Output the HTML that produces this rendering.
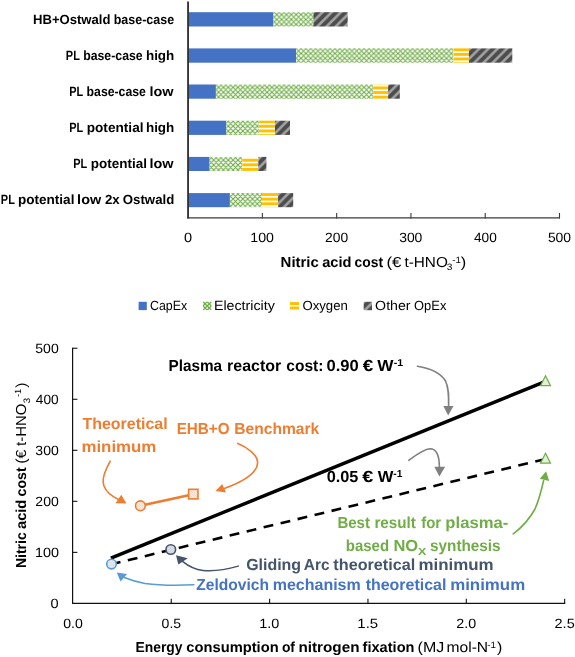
<!DOCTYPE html>
<html><head><meta charset="utf-8"><title>Nitric acid cost charts</title>
<style>html,body{margin:0;padding:0;background:#fff}svg{display:block}</style></head>
<body>
<svg width="575" height="657" viewBox="0 0 575 657" font-family="'Liberation Sans', Arial, sans-serif" text-rendering="geometricPrecision">
<defs>
<pattern id="pg" patternUnits="userSpaceOnUse" width="4.85" height="4.85" x="0.3" y="0.1">
<rect width="4.85" height="4.85" fill="#fff"/>
<path d="M-1,-1L5.85,5.85M-1,5.85L5.85,-1M-1,3.85L1,5.85M3.85,-1L5.85,1M-1,1L1,-1M3.85,5.85L5.85,3.85" stroke="#70AD47" stroke-width="1.12" fill="none"/>
</pattern>
<pattern id="py" patternUnits="userSpaceOnUse" width="10" height="4.75" x="0" y="48.5">
<rect width="10" height="4.75" fill="#fff"/>
<rect width="10" height="3" fill="#FFC000"/>
</pattern>
<pattern id="pk" patternUnits="userSpaceOnUse" width="9.2" height="9.2" x="0" y="0">
<rect width="9.2" height="9.2" fill="#4c4c4c"/>
<path d="M-2,5.5L5.5,-2M1.5,11.2L11.2,1.5" stroke="#a3a3a3" stroke-width="2.6" fill="none"/>
</pattern>
<pattern id="po" patternUnits="userSpaceOnUse" width="2.4" height="2.4">
<rect width="2.4" height="2.4" fill="#fdf4ee"/>
<path d="M-0.6,-0.6L3,3M-0.6,1.8L0.6,3M1.8,-0.6L3,0.6" stroke="#f3c3a2" stroke-width="0.8" fill="none"/>
</pattern>
</defs>
<rect width="575" height="657" fill="#fff"/>
<rect x="188.90" y="12.20" width="84.10" height="14.30" fill="#4472C4"/>
<rect x="273.00" y="12.20" width="40.40" height="14.30" fill="url(#pg)"/>
<rect x="313.40" y="12.20" width="34.30" height="14.30" fill="url(#pk)"/>
<rect x="188.90" y="48.40" width="107.30" height="14.30" fill="#4472C4"/>
<rect x="296.20" y="48.40" width="157.30" height="14.30" fill="url(#pg)"/>
<rect x="453.50" y="48.40" width="15.40" height="14.30" fill="#fffdf5"/>
<rect x="453.50" y="48.40" width="15.40" height="2.80" fill="#FFC000"/>
<rect x="453.50" y="52.95" width="15.40" height="2.85" fill="#FFC000"/>
<rect x="453.50" y="57.55" width="15.40" height="2.85" fill="#FFC000"/>
<rect x="453.50" y="62.15" width="15.40" height="0.55" fill="#FFC000"/>
<rect x="468.90" y="48.40" width="43.40" height="14.30" fill="url(#pk)"/>
<rect x="188.90" y="84.50" width="27.00" height="14.20" fill="#4472C4"/>
<rect x="215.90" y="84.50" width="157.20" height="14.20" fill="url(#pg)"/>
<rect x="373.10" y="84.50" width="15.00" height="14.20" fill="#fffdf5"/>
<rect x="373.10" y="84.50" width="15.00" height="0.25" fill="#FFC000"/>
<rect x="373.10" y="86.50" width="15.00" height="2.85" fill="#FFC000"/>
<rect x="373.10" y="91.10" width="15.00" height="2.85" fill="#FFC000"/>
<rect x="373.10" y="95.70" width="15.00" height="2.85" fill="#FFC000"/>
<rect x="388.10" y="84.50" width="11.70" height="14.20" fill="url(#pk)"/>
<rect x="188.90" y="120.70" width="37.40" height="14.20" fill="#4472C4"/>
<rect x="226.30" y="120.70" width="32.60" height="14.20" fill="url(#pg)"/>
<rect x="258.90" y="120.70" width="16.10" height="14.20" fill="#fffdf5"/>
<rect x="258.90" y="120.70" width="16.10" height="2.45" fill="#FFC000"/>
<rect x="258.90" y="124.90" width="16.10" height="2.85" fill="#FFC000"/>
<rect x="258.90" y="129.50" width="16.10" height="2.85" fill="#FFC000"/>
<rect x="258.90" y="134.10" width="16.10" height="0.80" fill="#FFC000"/>
<rect x="275.00" y="120.70" width="15.00" height="14.20" fill="url(#pk)"/>
<rect x="188.90" y="156.90" width="20.70" height="14.10" fill="#4472C4"/>
<rect x="209.60" y="156.90" width="32.60" height="14.10" fill="url(#pg)"/>
<rect x="242.20" y="156.90" width="16.10" height="14.10" fill="#fffdf5"/>
<rect x="242.20" y="158.80" width="16.10" height="2.85" fill="#FFC000"/>
<rect x="242.20" y="163.40" width="16.10" height="2.85" fill="#FFC000"/>
<rect x="242.20" y="168.00" width="16.10" height="2.85" fill="#FFC000"/>
<rect x="258.30" y="156.90" width="8.10" height="14.10" fill="url(#pk)"/>
<rect x="188.90" y="193.10" width="41.00" height="14.10" fill="#4472C4"/>
<rect x="229.90" y="193.10" width="32.10" height="14.10" fill="url(#pg)"/>
<rect x="262.00" y="193.10" width="16.10" height="14.10" fill="#fffdf5"/>
<rect x="262.00" y="193.10" width="16.10" height="2.85" fill="#FFC000"/>
<rect x="262.00" y="197.70" width="16.10" height="2.85" fill="#FFC000"/>
<rect x="262.00" y="202.30" width="16.10" height="2.85" fill="#FFC000"/>
<rect x="262.00" y="206.90" width="16.10" height="0.30" fill="#FFC000"/>
<rect x="278.10" y="193.10" width="15.10" height="14.10" fill="url(#pk)"/>
<line x1="188.05" y1="1.4" x2="188.05" y2="218.4" stroke="#111" stroke-width="1.6"/>
<line x1="187.3" y1="217.9" x2="560" y2="217.9" stroke="#3a3a3a" stroke-width="1.1"/>
<line x1="262.38" y1="213" x2="262.38" y2="218.4" stroke="#3a3a3a" stroke-width="1.1"/>
<line x1="336.66" y1="213" x2="336.66" y2="218.4" stroke="#3a3a3a" stroke-width="1.1"/>
<line x1="410.94" y1="213" x2="410.94" y2="218.4" stroke="#3a3a3a" stroke-width="1.1"/>
<line x1="485.22" y1="213" x2="485.22" y2="218.4" stroke="#3a3a3a" stroke-width="1.1"/>
<line x1="559.50" y1="213" x2="559.50" y2="218.4" stroke="#3a3a3a" stroke-width="1.1"/>
<text><tspan x="32.97" y="24" font-size="13.3" font-weight="bold" fill="#000" textLength="77.53" lengthAdjust="spacingAndGlyphs">HB+Ostwald</tspan> <tspan x="113.70" y="24" font-size="13.3" font-weight="bold" fill="#000" textLength="60.44" lengthAdjust="spacingAndGlyphs">base-case</tspan></text>
<text><tspan x="65.86" y="60" font-size="13.3" font-weight="bold" fill="#000" textLength="14.00" lengthAdjust="spacingAndGlyphs">PL</tspan> <tspan x="83.19" y="60" font-size="13.3" font-weight="bold" fill="#000" textLength="59.47" lengthAdjust="spacingAndGlyphs">base-case</tspan> <tspan x="145.92" y="60" font-size="13.3" font-weight="bold" fill="#000" textLength="28.40" lengthAdjust="spacingAndGlyphs">high</tspan></text>
<text><tspan x="69.27" y="96" font-size="13.3" font-weight="bold" fill="#000" textLength="13.97" lengthAdjust="spacingAndGlyphs">PL</tspan> <tspan x="86.55" y="96" font-size="13.3" font-weight="bold" fill="#000" textLength="59.40" lengthAdjust="spacingAndGlyphs">base-case</tspan> <tspan x="149.49" y="96" font-size="13.3" font-weight="bold" fill="#000" textLength="24.11" lengthAdjust="spacingAndGlyphs">low</tspan></text>
<text><tspan x="69.27" y="132" font-size="13.3" font-weight="bold" fill="#000" textLength="13.97" lengthAdjust="spacingAndGlyphs">PL</tspan> <tspan x="86.71" y="132" font-size="13.3" font-weight="bold" fill="#000" textLength="56.81" lengthAdjust="spacingAndGlyphs">potential</tspan> <tspan x="145.92" y="132" font-size="13.3" font-weight="bold" fill="#000" textLength="28.40" lengthAdjust="spacingAndGlyphs">high</tspan></text>
<text><tspan x="73.27" y="168" font-size="13.3" font-weight="bold" fill="#000" textLength="13.97" lengthAdjust="spacingAndGlyphs">PL</tspan> <tspan x="90.80" y="168" font-size="13.3" font-weight="bold" fill="#000" textLength="56.24" lengthAdjust="spacingAndGlyphs">potential</tspan> <tspan x="149.49" y="168" font-size="13.3" font-weight="bold" fill="#000" textLength="24.11" lengthAdjust="spacingAndGlyphs">low</tspan></text>
<text><tspan x="0.86" y="204" font-size="13.3" font-weight="bold" fill="#000" textLength="14.00" lengthAdjust="spacingAndGlyphs">PL</tspan> <tspan x="17.96" y="204" font-size="13.3" font-weight="bold" fill="#000" textLength="56.47" lengthAdjust="spacingAndGlyphs">potential</tspan> <tspan x="77.14" y="204" font-size="13.3" font-weight="bold" fill="#000" textLength="24.07" lengthAdjust="spacingAndGlyphs">low</tspan> <tspan x="104.90" y="204" font-size="13.3" font-weight="bold" fill="#000" textLength="14.75" lengthAdjust="spacingAndGlyphs">2x</tspan> <tspan x="122.84" y="204" font-size="13.3" font-weight="bold" fill="#000" textLength="51.42" lengthAdjust="spacingAndGlyphs">Ostwald</tspan></text>
<text><tspan x="184.06" y="242" font-size="13.4" font-weight="normal" fill="#000" textLength="8.08" lengthAdjust="spacingAndGlyphs">0</tspan></text>
<text><tspan x="250.37" y="242" font-size="13.4" font-weight="normal" fill="#000" textLength="23.61" lengthAdjust="spacingAndGlyphs">100</tspan></text>
<text><tspan x="325.12" y="242" font-size="13.4" font-weight="normal" fill="#000" textLength="23.07" lengthAdjust="spacingAndGlyphs">200</tspan></text>
<text><tspan x="399.17" y="242" font-size="13.4" font-weight="normal" fill="#000" textLength="23.20" lengthAdjust="spacingAndGlyphs">300</tspan></text>
<text><tspan x="473.97" y="242" font-size="13.4" font-weight="normal" fill="#000" textLength="22.75" lengthAdjust="spacingAndGlyphs">400</tspan></text>
<text><tspan x="547.90" y="242" font-size="13.4" font-weight="normal" fill="#000" textLength="23.20" lengthAdjust="spacingAndGlyphs">500</tspan></text>
<text><tspan x="280.63" y="267" font-size="14.5" font-weight="bold" fill="#000" textLength="38.23" lengthAdjust="spacingAndGlyphs">Nitric</tspan> <tspan x="322.15" y="267" font-size="14.5" font-weight="bold" fill="#000" textLength="29.36" lengthAdjust="spacingAndGlyphs">acid</tspan> <tspan x="354.51" y="267" font-size="14.5" font-weight="bold" fill="#000" textLength="28.53" lengthAdjust="spacingAndGlyphs">cost</tspan> <tspan x="386.44" y="267" font-size="14.5" font-weight="normal" fill="#000" textLength="15.00" lengthAdjust="spacingAndGlyphs">(€</tspan> <tspan x="404.43" y="267" font-size="14.5" font-weight="normal" fill="#000" textLength="43.42" lengthAdjust="spacingAndGlyphs">t-HNO</tspan><tspan x="446.72" y="270" font-size="9.4" font-weight="normal" fill="#000" textLength="5.67" lengthAdjust="spacingAndGlyphs">3</tspan><tspan x="452.34" y="263" font-size="9" font-weight="normal" fill="#000" textLength="8.76" lengthAdjust="spacingAndGlyphs">-1</tspan><tspan x="460.79" y="267" font-size="14.5" font-weight="normal" fill="#000" textLength="5.46" lengthAdjust="spacingAndGlyphs">)</tspan></text>
<rect x="138.6" y="301.8" width="8.2" height="8.3" fill="#4472C4"/>
<text><tspan x="150.01" y="310" font-size="13.3" font-weight="normal" fill="#000" textLength="37.24" lengthAdjust="spacingAndGlyphs">CapEx</tspan></text>
<clipPath id="cl"><rect x="203.0" y="301.8" width="8.4" height="8.3"/></clipPath>
<g clip-path="url(#cl)"><rect x="203" y="301.8" width="8.4" height="8.3" fill="#f4f9f0"/><path d="M193.00,300.15L213.00,320.15M193.00,311.75L213.00,291.75M195.10,298.05L215.10,318.05M195.10,313.85L215.10,293.85M197.20,295.95L217.20,315.95M197.20,315.95L217.20,295.95M199.30,293.85L219.30,313.85M199.30,318.05L219.30,298.05M201.40,291.75L221.40,311.75M201.40,320.15L221.40,300.15" stroke="#70AD47" stroke-width="1.25" fill="none"/></g>
<text><tspan x="213.95" y="310" font-size="13.3" font-weight="normal" fill="#000" textLength="60.80" lengthAdjust="spacingAndGlyphs">Electricity</tspan></text>
<rect x="290" y="302.1" width="9" height="2.9" fill="#FFC000"/><rect x="290" y="306.5" width="9" height="3.0" fill="#FFC000"/>
<text><tspan x="302.43" y="310" font-size="13.3" font-weight="normal" fill="#000" textLength="45.44" lengthAdjust="spacingAndGlyphs">Oxygen</tspan></text>
<rect x="363.7" y="301.8" width="8.3" height="8.4" fill="url(#pk)"/>
<text><tspan x="375.11" y="310" font-size="13.3" font-weight="normal" fill="#000" textLength="35.48" lengthAdjust="spacingAndGlyphs">Other</tspan> <tspan x="414.08" y="310" font-size="13.3" font-weight="normal" fill="#000" textLength="32.26" lengthAdjust="spacingAndGlyphs">OpEx</tspan></text>
<line x1="72.6" y1="347.7" x2="72.6" y2="604.0" stroke="#111" stroke-width="1.2"/>
<line x1="72.0" y1="603.4" x2="565.2" y2="603.4" stroke="#111" stroke-width="1.2"/>
<line x1="72.6" y1="552.37" x2="77.4" y2="552.37" stroke="#111" stroke-width="1.1"/>
<line x1="72.6" y1="501.34" x2="77.4" y2="501.34" stroke="#111" stroke-width="1.1"/>
<line x1="72.6" y1="450.31" x2="77.4" y2="450.31" stroke="#111" stroke-width="1.1"/>
<line x1="72.6" y1="399.28" x2="77.4" y2="399.28" stroke="#111" stroke-width="1.1"/>
<line x1="72.6" y1="348.25" x2="77.4" y2="348.25" stroke="#111" stroke-width="1.1"/>
<line x1="171.25" y1="598.8" x2="171.25" y2="603.4" stroke="#111" stroke-width="1.1"/>
<line x1="269.60" y1="598.8" x2="269.60" y2="603.4" stroke="#111" stroke-width="1.1"/>
<line x1="367.95" y1="598.8" x2="367.95" y2="603.4" stroke="#111" stroke-width="1.1"/>
<line x1="466.30" y1="598.8" x2="466.30" y2="603.4" stroke="#111" stroke-width="1.1"/>
<line x1="564.65" y1="598.8" x2="564.65" y2="603.4" stroke="#111" stroke-width="1.1"/>
<text><tspan x="50.61" y="608" font-size="13.4" font-weight="normal" fill="#000" textLength="8.09" lengthAdjust="spacingAndGlyphs">0</tspan></text>
<text><tspan x="34.92" y="557" font-size="13.4" font-weight="normal" fill="#000" textLength="24.00" lengthAdjust="spacingAndGlyphs">100</tspan></text>
<text><tspan x="35.33" y="506" font-size="13.4" font-weight="normal" fill="#000" textLength="23.40" lengthAdjust="spacingAndGlyphs">200</tspan></text>
<text><tspan x="35.38" y="455" font-size="13.4" font-weight="normal" fill="#000" textLength="23.39" lengthAdjust="spacingAndGlyphs">300</tspan></text>
<text><tspan x="35.89" y="404" font-size="13.4" font-weight="normal" fill="#000" textLength="22.78" lengthAdjust="spacingAndGlyphs">400</tspan></text>
<text><tspan x="35.28" y="353" font-size="13.4" font-weight="normal" fill="#000" textLength="23.44" lengthAdjust="spacingAndGlyphs">500</tspan></text>
<text><tspan x="63.18" y="628" font-size="13.4" font-weight="normal" fill="#000" textLength="19.61" lengthAdjust="spacingAndGlyphs">0.0</tspan></text>
<text><tspan x="161.58" y="628" font-size="13.4" font-weight="normal" fill="#000" textLength="19.53" lengthAdjust="spacingAndGlyphs">0.5</tspan></text>
<text><tspan x="259.26" y="628" font-size="13.4" font-weight="normal" fill="#000" textLength="20.05" lengthAdjust="spacingAndGlyphs">1.0</tspan></text>
<text><tspan x="357.35" y="628" font-size="13.4" font-weight="normal" fill="#000" textLength="20.81" lengthAdjust="spacingAndGlyphs">1.5</tspan></text>
<text><tspan x="456.27" y="628" font-size="13.4" font-weight="normal" fill="#000" textLength="19.84" lengthAdjust="spacingAndGlyphs">2.0</tspan></text>
<text><tspan x="554.57" y="628" font-size="13.4" font-weight="normal" fill="#000" textLength="20.16" lengthAdjust="spacingAndGlyphs">2.5</tspan></text>
<text><tspan x="135.57" y="652" font-size="14.5" font-weight="bold" fill="#000" textLength="47.00" lengthAdjust="spacingAndGlyphs">Energy</tspan> <tspan x="186.38" y="652" font-size="14.5" font-weight="bold" fill="#000" textLength="92.29" lengthAdjust="spacingAndGlyphs">consumption</tspan> <tspan x="281.88" y="652" font-size="14.5" font-weight="bold" fill="#000" textLength="13.08" lengthAdjust="spacingAndGlyphs">of</tspan> <tspan x="298.43" y="652" font-size="14.5" font-weight="bold" fill="#000" textLength="61.11" lengthAdjust="spacingAndGlyphs">nitrogen</tspan> <tspan x="362.62" y="652" font-size="14.5" font-weight="bold" fill="#000" textLength="51.84" lengthAdjust="spacingAndGlyphs">fixation</tspan> <tspan x="417.59" y="652" font-size="14.5" font-weight="normal" fill="#000" textLength="26.64" lengthAdjust="spacingAndGlyphs">(MJ</tspan> <tspan x="446.53" y="652" font-size="14.5" font-weight="normal" fill="#000" textLength="41.59" lengthAdjust="spacingAndGlyphs">mol-N</tspan><tspan x="487.37" y="648" font-size="9" font-weight="normal" fill="#000" textLength="8.72" lengthAdjust="spacingAndGlyphs">-1</tspan><tspan x="497.13" y="652" font-size="14.5" font-weight="normal" fill="#000" textLength="5.32" lengthAdjust="spacingAndGlyphs">)</tspan></text>
<g transform="translate(26.4,0) rotate(-90)">
<text><tspan x="-568.06" y="0.0" font-size="14.5" font-weight="bold" fill="#000" textLength="35.79" lengthAdjust="spacingAndGlyphs">Nitric</tspan> <tspan x="-528.97" y="0.0" font-size="14.5" font-weight="bold" fill="#000" textLength="29.23" lengthAdjust="spacingAndGlyphs">acid</tspan> <tspan x="-496.41" y="0.0" font-size="14.5" font-weight="bold" fill="#000" textLength="29.08" lengthAdjust="spacingAndGlyphs">cost</tspan> <tspan x="-463.69" y="0.0" font-size="14.5" font-weight="normal" fill="#000" textLength="14.17" lengthAdjust="spacingAndGlyphs">(€</tspan> <tspan x="-445.90" y="0.0" font-size="14.5" font-weight="normal" fill="#000" textLength="42.42" lengthAdjust="spacingAndGlyphs">t-HNO</tspan><tspan x="-403.29" y="4.0" font-size="9.4" font-weight="normal" fill="#000" textLength="5.34" lengthAdjust="spacingAndGlyphs">3</tspan><tspan x="-397.14" y="-5.4" font-size="9" font-weight="normal" fill="#000" textLength="8.34" lengthAdjust="spacingAndGlyphs">-1</tspan><tspan x="-387.82" y="0.0" font-size="14.5" font-weight="normal" fill="#000" textLength="5.32" lengthAdjust="spacingAndGlyphs">)</tspan></text>
</g>
<line x1="110.9" y1="558.1" x2="545.0" y2="381.6" stroke="#000" stroke-width="3.4"/>
<line x1="111.7" y1="564.2" x2="545.5" y2="459.0" stroke="#000" stroke-width="2.6" stroke-dasharray="9.9 7.57" stroke-dashoffset="0.9"/>
<line x1="140.4" y1="505.8" x2="193.3" y2="494.2" stroke="#ED7D31" stroke-width="2.7"/>
<circle cx="140.4" cy="505.8" r="4.9" fill="url(#po)" stroke="#ED7D31" stroke-width="1.6"/>
<rect x="188.65" y="489.3" width="9.3" height="9.6" fill="url(#po)" stroke="#ED7D31" stroke-width="1.6"/>
<circle cx="111.5" cy="564.1" r="4.8" fill="#dfe6e9" stroke="#5B9BD5" stroke-width="1.6"/>
<circle cx="170.8" cy="549.5" r="4.8" fill="#d6dbe2" stroke="#44546A" stroke-width="1.6"/>
<path d="M545.5,375.8L550.5,385.7L540.5,385.7Z" fill="#e2efd9" stroke="#70AD47" stroke-width="1.2" stroke-linejoin="miter"/>
<path d="M545.5,453.3L550.5,463.2L540.5,463.2Z" fill="#e2efd9" stroke="#70AD47" stroke-width="1.2" stroke-linejoin="miter"/>
<path d="M110.2,461.1C105,471 101.5,479 104,486C106.5,493 112,496.5 119,499.8" fill="none" stroke="#ED7D31" stroke-width="1.6" stroke-linecap="round"/>
<path d="M126.4,503.6L121.3,494.8L115.5,503.3Z" fill="#ED7D31"/>
<path d="M237.8,443.4C247,447 258,455 257.6,463C257,473 244,481.5 223.5,488.8" fill="none" stroke="#ED7D31" stroke-width="1.6" stroke-linecap="round"/>
<path d="M215.5,491.0L222.2,484.1L226.0,492.5Z" fill="#ED7D31"/>
<path d="M417.4,366.3C428,368 440,372 445.5,381C449,388 448.8,397 448.6,407" fill="none" stroke="#7f7f7f" stroke-width="1.6" stroke-linecap="round"/>
<path d="M448.2,415.4L443.3,406.0L453.5,406.0Z" fill="#7f7f7f"/>
<path d="M408.8,460.3C416,455 424,449 430,448.8C437,448.8 439.4,456 439.4,467.5" fill="none" stroke="#7f7f7f" stroke-width="1.6" stroke-linecap="round"/>
<path d="M439.4,476.6L434.3,466.7L445.1,466.7Z" fill="#7f7f7f"/>
<path d="M513.3,533.9C521,528 529,520 535,509C539,500 541.5,490 543.6,480.5" fill="none" stroke="#70AD47" stroke-width="1.6" stroke-linecap="round"/>
<path d="M546.1,471.2L539.8,478.7L549.2,481.1Z" fill="#70AD47"/>
<path d="M238.3,566.1C227,569.3 213,571.3 203,570.4C195,569.6 188,565.8 182.8,561.6" fill="none" stroke="#44546A" stroke-width="1.5" stroke-linecap="round"/>
<path d="M176.0,555.3L178.3,564.5L187.8,558.3Z" fill="#44546A"/>
<path d="M193.8,584.8C180,585.5 160,585.5 145,583.5C136,582 129,579.5 123.5,577.3" fill="none" stroke="#5B9BD5" stroke-width="1.6" stroke-linecap="round"/>
<path d="M116.7,572.6L120.6,581.5L127.0,574.0Z" fill="#5B9BD5"/>
<text><tspan x="168.45" y="371" font-size="16.0" font-weight="bold" fill="#000" textLength="53.66" lengthAdjust="spacingAndGlyphs">Plasma</tspan> <tspan x="227.12" y="371" font-size="16.0" font-weight="bold" fill="#000" textLength="54.06" lengthAdjust="spacingAndGlyphs">reactor</tspan> <tspan x="286.35" y="371" font-size="16.0" font-weight="bold" fill="#000" textLength="37.07" lengthAdjust="spacingAndGlyphs">cost:</tspan> <tspan x="326.54" y="371" font-size="16.0" font-weight="bold" fill="#000" textLength="32.24" lengthAdjust="spacingAndGlyphs">0.90</tspan> <tspan x="362.89" y="371" font-size="16.0" font-weight="bold" fill="#000" textLength="10.48" lengthAdjust="spacingAndGlyphs">€</tspan> <tspan x="377.38" y="371" font-size="16.0" font-weight="bold" fill="#000" textLength="16.23" lengthAdjust="spacingAndGlyphs">W</tspan><tspan x="393.70" y="366" font-size="10.0" font-weight="bold" fill="#000" textLength="9.48" lengthAdjust="spacingAndGlyphs">-1</tspan></text>
<text><tspan x="326.72" y="482" font-size="16.0" font-weight="bold" fill="#000" textLength="31.72" lengthAdjust="spacingAndGlyphs">0.05</tspan> <tspan x="362.39" y="482" font-size="16.0" font-weight="bold" fill="#000" textLength="11.05" lengthAdjust="spacingAndGlyphs">€</tspan> <tspan x="377.67" y="482" font-size="16.0" font-weight="bold" fill="#000" textLength="15.64" lengthAdjust="spacingAndGlyphs">W</tspan><tspan x="393.38" y="477" font-size="10.2" font-weight="bold" fill="#000" textLength="9.12" lengthAdjust="spacingAndGlyphs">-1</tspan></text>
<text><tspan x="82.42" y="429" font-size="16.0" font-weight="bold" fill="#ED7D31" textLength="85.17" lengthAdjust="spacingAndGlyphs">Theoretical</tspan> <tspan x="81.47" y="452" font-size="16.0" font-weight="bold" fill="#ED7D31" textLength="74.85" lengthAdjust="spacingAndGlyphs">minimum</tspan></text>
<text><tspan x="176.70" y="434" font-size="16.0" font-weight="bold" fill="#ED7D31" textLength="52.88" lengthAdjust="spacingAndGlyphs">EHB+O</tspan> <tspan x="234.30" y="434" font-size="16.0" font-weight="bold" fill="#ED7D31" textLength="84.90" lengthAdjust="spacingAndGlyphs">Benchmark</tspan></text>
<text><tspan x="337.38" y="528" font-size="16.0" font-weight="bold" fill="#70AD47" textLength="32.63" lengthAdjust="spacingAndGlyphs">Best</tspan> <tspan x="374.44" y="528" font-size="16.0" font-weight="bold" fill="#70AD47" textLength="41.44" lengthAdjust="spacingAndGlyphs">result</tspan> <tspan x="421.18" y="528" font-size="16.0" font-weight="bold" fill="#70AD47" textLength="19.94" lengthAdjust="spacingAndGlyphs">for</tspan> <tspan x="445.38" y="528" font-size="16.0" font-weight="bold" fill="#70AD47" textLength="62.95" lengthAdjust="spacingAndGlyphs">plasma-</tspan><tspan x="345.84" y="551" font-size="16.0" font-weight="bold" fill="#70AD47" textLength="43.23" lengthAdjust="spacingAndGlyphs">based</tspan> <tspan x="393.43" y="551" font-size="16.0" font-weight="bold" fill="#70AD47" textLength="24.73" lengthAdjust="spacingAndGlyphs">NO</tspan><tspan x="418.05" y="555" font-size="10.2" font-weight="bold" fill="#70AD47" textLength="8.28" lengthAdjust="spacingAndGlyphs">X</tspan> <tspan x="430.07" y="551" font-size="16.0" font-weight="bold" fill="#70AD47" textLength="70.54" lengthAdjust="spacingAndGlyphs">synthesis</tspan></text>
<text><tspan x="246.15" y="570" font-size="16.0" font-weight="bold" fill="#44546A" textLength="54.96" lengthAdjust="spacingAndGlyphs">Gliding</tspan> <tspan x="303.82" y="570" font-size="16.0" font-weight="bold" fill="#44546A" textLength="25.64" lengthAdjust="spacingAndGlyphs">Arc</tspan> <tspan x="333.37" y="570" font-size="16.0" font-weight="bold" fill="#44546A" textLength="81.88" lengthAdjust="spacingAndGlyphs">theoretical</tspan> <tspan x="418.44" y="570" font-size="16.0" font-weight="bold" fill="#44546A" textLength="75.17" lengthAdjust="spacingAndGlyphs">minimum</tspan></text>
<text><tspan x="196.31" y="590" font-size="16.0" font-weight="bold" fill="#4472C4" textLength="72.71" lengthAdjust="spacingAndGlyphs">Zeldovich</tspan> <tspan x="272.72" y="590" font-size="16.0" font-weight="bold" fill="#4472C4" textLength="88.01" lengthAdjust="spacingAndGlyphs">mechanism</tspan> <tspan x="365.67" y="590" font-size="16.0" font-weight="bold" fill="#4472C4" textLength="80.72" lengthAdjust="spacingAndGlyphs">theoretical</tspan> <tspan x="450.19" y="590" font-size="16.0" font-weight="bold" fill="#4472C4" textLength="74.96" lengthAdjust="spacingAndGlyphs">minimum</tspan></text>
</svg>
</body></html>
